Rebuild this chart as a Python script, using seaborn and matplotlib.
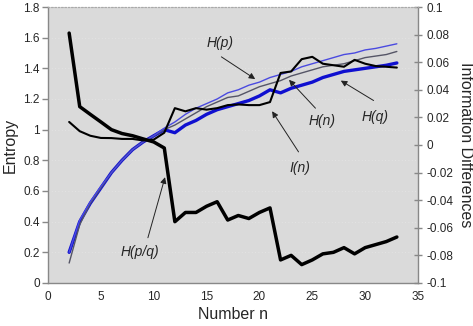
import numpy as np
import pandas as pd
import matplotlib
matplotlib.use("Agg")
import matplotlib.pyplot as plt
import seaborn as sns

n = list(range(2, 34))

# Entropy (left axis)
H_p = [0.20, 0.41, 0.53, 0.63, 0.72, 0.80, 0.87, 0.92, 0.96, 1.01, 1.05, 1.10, 1.14, 1.17,
       1.20, 1.24, 1.26, 1.29, 1.31, 1.34, 1.36, 1.38, 1.41, 1.43, 1.45, 1.47, 1.49, 1.50,
       1.52, 1.53, 1.545, 1.56]
H_n = [0.13, 0.38, 0.52, 0.62, 0.72, 0.80, 0.87, 0.92, 0.96, 1.00, 1.03, 1.07, 1.11, 1.15,
       1.18, 1.21, 1.22, 1.25, 1.28, 1.30, 1.32, 1.35, 1.37, 1.39, 1.41, 1.42, 1.43, 1.45,
       1.47, 1.48, 1.49, 1.51]
H_q = [0.20, 0.40, 0.52, 0.62, 0.72, 0.80, 0.87, 0.92, 0.96, 1.00, 0.98, 1.03, 1.06, 1.10,
       1.13, 1.15, 1.17, 1.19, 1.22, 1.26, 1.24, 1.27, 1.29, 1.31, 1.34, 1.36, 1.38, 1.39,
       1.40, 1.41, 1.42, 1.435]

# Information differences (right axis)
I_n = [0.0167, 0.0100, 0.0067, 0.0051, 0.0050, 0.0044, 0.0044, 0.0033, 0.0039, 0.0089,
       0.0267, 0.0244, 0.0267, 0.0256, 0.0267, 0.0289, 0.0294, 0.0289, 0.0289, 0.0311,
       0.0522, 0.0533, 0.0622, 0.0639, 0.0589, 0.0578, 0.0567, 0.0617, 0.0589, 0.0572,
       0.0567, 0.0561]
H_pq = [0.0811, 0.0278, 0.0222, 0.0167, 0.0111, 0.0083, 0.0067, 0.0044, 0.0022, -0.0022,
        -0.0556, -0.0489, -0.0489, -0.0444, -0.0411, -0.0544, -0.0511, -0.0533, -0.0489,
        -0.0456, -0.0833, -0.0800, -0.0867, -0.0833, -0.0789, -0.0778, -0.0744, -0.0789,
        -0.0744, -0.0722, -0.0700, -0.0667]

left_ticks = [0, 0.2, 0.4, 0.6, 0.8, 1, 1.2, 1.4, 1.6, 1.8]
left_labels = ["0", "0.2", "0.4", "0.6", "0.8", "1", "1.2", "1.4", "1.6", "1.8"]
right_ticks = [-0.1, -0.08, -0.06, -0.04, -0.02, 0, 0.02, 0.04, 0.06, 0.08, 0.1]
right_labels = ["-0.1", "-0.08", "-0.06", "-0.04", "-0.02", "0", "0.02", "0.04", "0.06", "0.08", "0.1"]
x_ticks = [0, 5, 10, 15, 20, 25, 30, 35]

df = pd.DataFrame({"n": n, "H(p)": H_p, "H(n)": H_n, "H(q)": H_q, "I(n)": I_n, "H(p/q)": H_pq})

sns.set_style("white")
plt.rcParams["font.family"] = ["Liberation Sans", "DejaVu Sans"]
plt.rcParams["lines.solid_joinstyle"] = "round"
plt.rcParams["lines.solid_capstyle"] = "round"

fig = plt.figure(figsize=(4.73, 3.26), dpi=100)
ax = fig.add_axes([0.1015, 0.132, 0.7822, 0.8465])
ax2 = ax.twinx()
ax.set_zorder(0)
ax2.set_zorder(1)
ax.patch.set_facecolor("#dadada")
ax2.patch.set_visible(False)

sns.lineplot(data=df, x="n", y="H(q)", ax=ax, color="#1010d0", lw=2.4, zorder=3)
sns.lineplot(data=df, x="n", y="H(n)", ax=ax, color="#555566", lw=1.0, zorder=4)
sns.lineplot(data=df, x="n", y="H(p)", ax=ax, color="#4a4ae0", lw=1.0, zorder=4)
sns.lineplot(data=df, x="n", y="I(n)", ax=ax2, color="black", lw=1.5, zorder=5)
sns.lineplot(data=df, x="n", y="H(p/q)", ax=ax2, color="black", lw=2.5, zorder=5)

ax.set_xlim(0, 35)
ax.set_ylim(0, 1.8)
ax2.set_ylim(-0.1, 0.1)
ax.set_xticks(x_ticks)
ax.set_xticklabels([str(t) for t in x_ticks], fontsize=8.5)
ax.set_yticks(left_ticks)
ax.set_yticklabels(left_labels, fontsize=8.5)
ax2.set_yticks(right_ticks)
ax2.set_yticklabels(right_labels, fontsize=8.5)

for y in left_ticks[1:-1]:
    ax.axhline(y, color="#e6e6e6", lw=0.6, ls=(0, (1, 3)), zorder=1)

ax.set_xlabel("Number n", fontsize=11.5, labelpad=3)
ax.set_ylabel("Entropy", fontsize=11.5, labelpad=4)
ax2.set_ylabel("Information Differences", fontsize=11.5, rotation=270, labelpad=14)

for a in (ax, ax2):
    for s in ("left", "right", "bottom"):
        a.spines[s].set_color("#888888")
        a.spines[s].set_linewidth(1.0)
    a.spines["top"].set_color("#aaaaaa")
    a.spines["top"].set_linestyle((0, (1, 2)))
    a.spines["top"].set_linewidth(0.8)
ax.spines["right"].set_visible(False)
ax2.spines["left"].set_visible(False)
ax2.spines["bottom"].set_visible(False)

ax.tick_params(axis="y", direction="out", length=4, width=1, color="#888888", pad=2)
ax.tick_params(axis="x", direction="inout", length=5, width=1, color="#888888", pad=3)
ax2.tick_params(axis="y", direction="inout", length=6, width=1, color="#888888", pad=3)
ax2.tick_params(axis="x", bottom=False)

fig.patch.set_facecolor("white")

arrow = dict(arrowstyle="-|>", color="#222222", lw=0.7, mutation_scale=9, shrinkA=0, shrinkB=0)
tf = dict(fontsize=10, style="italic", ha="center", va="center")
ax.text(16.3, 1.565, "H(p)", **tf)
ax.annotate("", xy=(19.6, 1.33), xytext=(16.4, 1.475), arrowprops=arrow)
ax.text(25.9, 1.057, "H(n)", **tf)
ax.annotate("", xy=(22.8, 1.325), xytext=(25.3, 1.14), arrowprops=arrow)
ax.text(30.9, 1.083, "H(q)", **tf)
ax.annotate("", xy=(27.7, 1.32), xytext=(30.8, 1.19), arrowprops=arrow)
ax.text(23.8, 0.75, "I(n)", **tf)
ax.annotate("", xy=(21.2, 1.12), xytext=(23.7, 0.855), arrowprops=arrow)
ax.text(8.7, 0.20, "H(p/q)", **tf)
ax.annotate("", xy=(11.07, 0.69), xytext=(9.45, 0.295), arrowprops=arrow)

fig.savefig("out.png", dpi=100)
